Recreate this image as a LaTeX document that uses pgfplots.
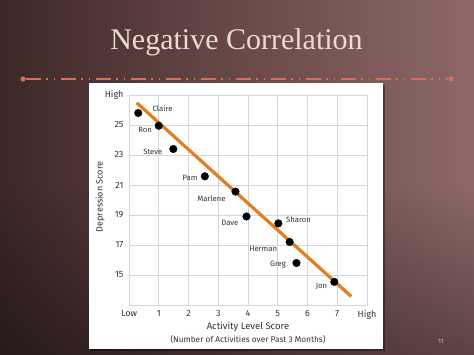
\documentclass[border=0pt]{standalone}
\usepackage{pgfplots}
\pgfplotsset{compat=1.18}
\usetikzlibrary{fadings}
\usepackage{fontspec}
\setmainfont{Fira Sans}
\newfontfamily\titlefont{Liberation Serif}
\definecolor{bgdark}{HTML}{3C2828}
\definecolor{bgmid}{HTML}{6A4848}
\definecolor{bglight}{HTML}{8E6868}
\definecolor{salmon}{HTML}{D4705E}
\definecolor{titlecol}{HTML}{EADCCF}
\definecolor{lineorange}{HTML}{E27D22}
\definecolor{gridgray}{HTML}{D6D6D6}
\definecolor{txt}{HTML}{333333}
\begin{document}
\begin{tikzpicture}[x=1pt,y=1pt]
% background
\shade[left color=bgdark, right color=bglight, middle color=bgmid] (0,0) rectangle (474,355);
\fill[black, opacity=0.35, path fading=north] (0,0) rectangle (474,170);
% title
\node[anchor=base, font=\titlefont\fontsize{30}{33}\selectfont, text=titlecol] at (236.5,305) {Negative Correlation};
% decorative line
\draw[salmon, line width=1.8pt, dash pattern=on 15pt off 5pt on 1.5pt off 6pt on 1.5pt off 6pt] (26,276) -- (448,276);
\fill[salmon] (23,276) circle (2.6);
\fill[salmon] (451,276) circle (2.6);
% panel
\fill[black, opacity=0.35] (91,4) rectangle (385,270);
\fill[white] (89,6) rectangle (383,272);
% chart
\begin{axis}[
  at={(129pt,50pt)}, anchor=south west,
  scale only axis, width=238pt, height=210pt,
  xmin=0, xmax=8, ymin=13, ymax=27,
  xtick={0,1,2,3,4,5,6,7,8}, xticklabels={Low,1,2,3,4,5,6,7,High},
  ytick={15,17,19,21,23,25,27}, yticklabels={15,17,19,21,23,25,High},
  grid=major, grid style={gridgray, line width=0.9pt},
  axis line style={gridgray, line width=0.9pt},
  major tick length=0pt,
  /pgf/number format/assume math mode=true,
  tick label style={font=\fontsize{9}{10}\selectfont, text=txt},
  xticklabel style={yshift=-1.5pt},
  yticklabel style={xshift=-2pt},
]
\addplot[lineorange, line width=3.2pt, no markers] coordinates {(0.26,26.48) (7.47,13.57)};
\addplot[only marks, mark=*, mark size=3.8pt, black] coordinates {
 (0.31,25.8) (1.0,24.95) (1.49,23.4) (2.55,21.58) (3.58,20.56)
 (3.95,18.9) (5.02,18.44) (5.40,17.2) (5.63,15.8) (6.9,14.54)};
\begin{scope}[every node/.style={font=\fontsize{7.7}{8}\selectfont, text=txt}]
\node at (axis cs:1.13,26.08) {Claire};
\node at (axis cs:0.54,24.7) {Ron};
\node at (axis cs:0.8,23.2) {Steve};
\node at (axis cs:2.05,21.47) {Pam};
\node at (axis cs:2.77,20.12) {Marlene};
\node at (axis cs:3.39,18.5) {Dave};
\node at (axis cs:5.7,18.7) {Sharon};
\node at (axis cs:4.51,16.74) {Herman};
\node at (axis cs:5.01,15.7) {Greg};
\node at (axis cs:6.47,14.22) {Jon};
\end{scope}
\end{axis}
% axis titles
\node[font=\fontsize{9.5}{10}\selectfont, text=txt] at (248,28) {Activity Level Score};
\node[font=\fontsize{8.3}{9}\selectfont, text=txt] at (248,15) {(Number of Activities over Past 3 Months)};
\node[rotate=90, font=\fontsize{9}{10}\selectfont, text=txt] at (100,158) {Depression Score};
% page number
\node[font=\fontsize{6}{7}\selectfont, text=white!75!bgmid] at (441,14) {11};
\end{tikzpicture}
\end{document}
